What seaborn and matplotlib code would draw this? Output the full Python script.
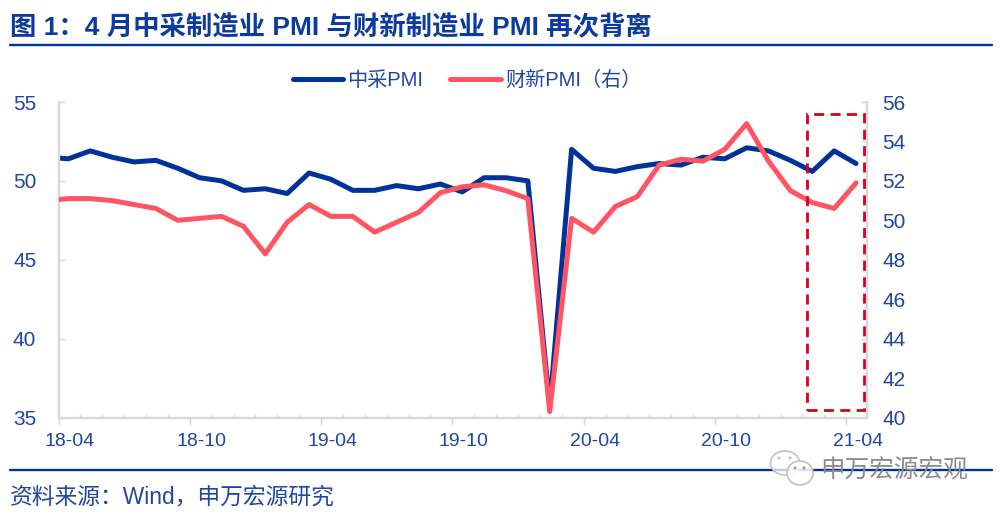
import matplotlib
matplotlib.use("Agg")
import matplotlib.pyplot as plt
from matplotlib.lines import Line2D
from matplotlib.patches import Rectangle, Ellipse
import numpy as np
import pandas as pd
import seaborn as sns

months = pd.period_range("2018-03", "2021-04", freq="M").strftime("%y-%m").tolist()
cflp_pmi = [51.5, 51.4, 51.9, 51.5, 51.2, 51.3, 50.8, 50.2, 50.0, 49.4, 49.5, 49.2, 50.5,
            50.1, 49.4, 49.4, 49.7, 49.5, 49.8, 49.3, 50.2, 50.2, 50.0, 35.7, 52.0, 50.8,
            50.6, 50.9, 51.1, 51.0, 51.5, 51.4, 52.1, 51.9, 51.3, 50.6, 51.9, 51.1]
caixin_pmi = [51.0, 51.1, 51.1, 51.0, 50.8, 50.6, 50.0, 50.1, 50.2, 49.7, 48.3, 49.9, 50.8,
              50.2, 50.2, 49.4, 49.9, 50.4, 51.4, 51.7, 51.8, 51.5, 51.1, 40.3, 50.1, 49.4,
              50.7, 51.2, 52.8, 53.1, 53.0, 53.6, 54.9, 53.0, 51.5, 50.9, 50.6, 51.9]
tick_labels = ["18-04", "18-10", "19-04", "19-10", "20-04", "20-10", "21-04"]

BLUE = "#003399"
RED = "#FF5562"
TEXT = "#1F45A5"
TITLE = "#0B3B9F"
GRID = "#D9D9D9"
W, H = 1000, 514

sns.set_theme(style="white")
plt.rcParams["font.family"] = ["Liberation Sans", "Noto Sans CJK SC"]

df = pd.DataFrame({"month": months, "cflp": cflp_pmi, "caixin": caixin_pmi})
df["pos"] = np.arange(len(df))

fig = plt.figure(figsize=(W / 100, H / 100), dpi=100)
ax = fig.add_axes([58.5 / W, 1 - 417.5 / H, (867 - 58.5) / W, (417.5 - 102) / H])
ax2 = ax.twinx()

sns.lineplot(data=df, x="pos", y="cflp", ax=ax, color=BLUE, lw=3.6, legend=False, zorder=3)
sns.lineplot(data=df, x="pos", y="caixin", ax=ax2, color=RED, lw=3.6, legend=False, zorder=3)

# Category axis: each month occupies a slot, ticks on the slot edges.
first = months.index("18-04")
ax.set_xlim(first - 0.45, len(months) - 0.5)
ax.set_ylim(35, 55)
ax2.set_ylim(40, 56)
ax.set_yticks(range(35, 60, 5))
ax2.set_yticks(range(40, 58, 2))
ax.set_xlabel("")
ax.set_ylabel("")
ax2.set_ylabel("")

major = [months.index(t) for t in tick_labels]
ax.set_xticks([m - 0.45 for m in major])
ax.set_xticklabels([])
ax.set_xticks(np.arange(first - 0.45, len(months) - 0.5, 1), minor=True)
for m, t in zip(major, tick_labels):
    ax.annotate(t, xy=(m + 0.07, 0), xycoords=("data", "axes fraction"), xytext=(0, -17.5),
                textcoords="offset points", ha="center", va="center",
                color=TEXT, fontsize=14)

ax.tick_params(axis="x", which="major", direction="out", length=5, width=1, color=GRID, bottom=True)
ax.tick_params(axis="x", which="minor", direction="in", length=3, width=1, color=GRID, bottom=True)
ax.tick_params(axis="y", which="major", left=True, length=4, width=1, color=GRID, direction="in",
               labelsize=15, labelcolor=TEXT, pad=16)
ax2.tick_params(axis="y", right=True, length=4, width=1, color=GRID, direction="in",
                labelsize=15, labelcolor=TEXT, pad=11)
for a in (ax, ax2):
    for side, sp in a.spines.items():
        sp.set_visible(side in ("left", "right", "bottom"))
        sp.set_color(GRID)
        sp.set_linewidth(1.6)
ax.patch.set_alpha(0)


# Pixel helpers for figure-level furniture
def fx(px):
    return px / W


def fy(py):
    return 1 - py / H


# Highlight box around the latest months
fig.add_artist(Rectangle((fx(807), fy(410)), (863.5 - 807) / W, (410 - 114) / H, fill=False,
                         ec="#D9001B", lw=2.0, ls=(0, (3.6, 2.3)), zorder=6))

handles = [Line2D([], [], color=BLUE, lw=3.6, solid_capstyle="round"),
           Line2D([], [], color=RED, lw=3.6, solid_capstyle="round")]
fig.legend(handles, ["中采PMI", "财新PMI（右）"], loc="center", bbox_to_anchor=(fx(467), fy(80)),
           ncol=2, frameon=False, fontsize=14.5, labelcolor=TEXT, handlelength=2.5,
           columnspacing=1.35, handletextpad=0.2)

# Header and footer
fig.text(fx(10), fy(28), "图 1：4 月中采制造业 PMI 与财新制造业 PMI 再次背离", color=TITLE,
         fontsize=19, fontweight="bold", ha="left", va="center")
fig.add_artist(Line2D([fx(10), fx(992)], [fy(44.5), fy(44.5)], color=BLUE, lw=1.7))
fig.add_artist(Line2D([fx(10), fx(992)], [fy(469.5), fy(469.5)], color=BLUE, lw=1.7))
fig.text(fx(10), fy(497), "资料来源：Wind，申万宏源研究", color=TEXT, fontsize=16.4, ha="left", va="center")

# Account mark in the lower corner
EDGE = "#C4C4C4"
fig.add_artist(Ellipse((fx(785), fy(463)), 29 / W, 24 / H, fc=(1, 1, 1, 0.75), ec=EDGE, lw=1.3, zorder=7))
fig.add_artist(Ellipse((fx(800), fy(473)), 26 / W, 24 / H, fc=(1, 1, 1, 0.85), ec=EDGE, lw=1.3, zorder=7))
for ex, ey, col in [(779, 458, EDGE), (790, 458, EDGE), (795, 468, "#9A9A9A"), (804, 468, "#9A9A9A")]:
    fig.add_artist(Ellipse((fx(ex), fy(ey)), 3 / W, 3 / H, fc=col, ec="none", zorder=8))
fig.text(fx(894.5), fy(471), "申万宏源宏观", color="#8C8C8C", fontsize=17.7, ha="center", va="center", zorder=7)

fig.savefig("out.png", dpi=100)
